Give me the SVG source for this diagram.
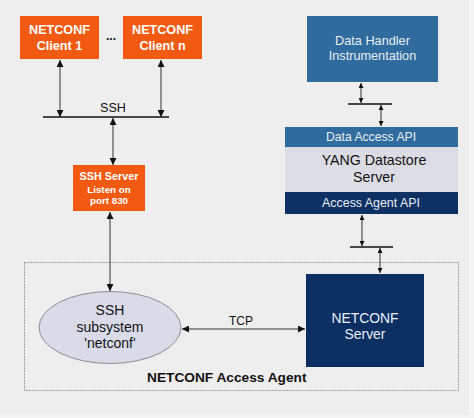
<svg xmlns="http://www.w3.org/2000/svg" width="474" height="418" viewBox="0 0 474 418">
<defs>
<style>
.t{font-family:"Liberation Sans",Arial,sans-serif;}
.b{font-weight:bold;}
.w{fill:#ffffff;}
.lt{fill:#e8eef6;}
.k{fill:#111111;}
.shaft{stroke:#333333;stroke-width:1;fill:none;}
.bus{stroke:#111111;stroke-width:1.6;fill:none;}
.orange{fill:#f25a12;}
</style>
<marker id="ah" viewBox="0 0 10 10" refX="10" refY="5" markerUnits="userSpaceOnUse" markerWidth="9" markerHeight="7" orient="auto-start-reverse">
<path d="M0,0 L10,5 L0,10 z" fill="#111"/>
</marker>
<marker id="as" viewBox="0 0 10 10" refX="10" refY="5" markerUnits="userSpaceOnUse" markerWidth="6" markerHeight="5" orient="auto-start-reverse">
<path d="M0,0 L10,5 L0,10 z" fill="#111"/>
</marker>
</defs>
<rect x="0" y="0" width="474" height="418" fill="#f4f4f4"/>
<rect x="0" y="0" width="469" height="415" fill="#eeeeee"/>

<g id="agent-boundary">
<rect x="24.5" y="262.5" width="434" height="128" fill="none" stroke="#9a9a9a" stroke-width="1" stroke-dasharray="2 1"/>
<text class="t b k" x="147" y="382" font-size="13.7">NETCONF Access Agent</text>
</g>

<g id="connectors">
<line class="shaft" x1="60" y1="60" x2="60" y2="117" marker-start="url(#ah)" marker-end="url(#ah)"/>
<line class="shaft" x1="161" y1="60" x2="161" y2="117" marker-start="url(#ah)" marker-end="url(#ah)"/>
<line class="bus" x1="43" y1="117" x2="169" y2="117"/>
<text class="t k" x="113" y="112" font-size="12.6" text-anchor="middle">SSH</text>
<line class="shaft" x1="113" y1="118" x2="113" y2="165" marker-start="url(#ah)" marker-end="url(#ah)"/>
<line class="shaft" x1="110" y1="212" x2="110" y2="291" marker-start="url(#ah)" marker-end="url(#ah)"/>
<line class="shaft" x1="182" y1="329" x2="305" y2="329" marker-start="url(#ah)" marker-end="url(#ah)"/>
<text class="t k" x="241" y="325" font-size="12" text-anchor="middle">TCP</text>
<line class="shaft" x1="361" y1="83" x2="361" y2="103" marker-start="url(#as)" marker-end="url(#as)"/>
<line class="bus" x1="348" y1="104" x2="392" y2="104"/>
<line class="shaft" x1="381" y1="105" x2="381" y2="126" marker-start="url(#as)" marker-end="url(#as)"/>
<line class="shaft" x1="362" y1="215" x2="362" y2="246" marker-start="url(#as)" marker-end="url(#as)"/>
<line class="bus" x1="350" y1="247" x2="393" y2="247"/>
<line class="shaft" x1="380" y1="248" x2="380" y2="273" marker-start="url(#as)" marker-end="url(#as)"/>
</g>

<g id="client1">
<rect class="orange" x="20" y="16" width="79" height="43"/>
<text class="t b w" x="59.5" y="34" font-size="12.6" text-anchor="middle">NETCONF</text>
<text class="t b w" x="59.5" y="50" font-size="12.6" text-anchor="middle">Client 1</text>
</g>
<g id="ellipsis">
<text class="t b k" x="111" y="40" font-size="12" text-anchor="middle">...</text>
</g>
<g id="clientn">
<rect class="orange" x="123" y="16" width="79" height="43"/>
<text class="t b w" x="162.5" y="34" font-size="12.6" text-anchor="middle">NETCONF</text>
<text class="t b w" x="162.5" y="50" font-size="12.6" text-anchor="middle">Client n</text>
</g>

<g id="ssh-server">
<rect class="orange" x="73" y="165" width="72" height="46"/>
<text class="t b w" x="109" y="180" font-size="10.8" text-anchor="middle">SSH Server</text>
<text class="t b w" x="109" y="193" font-size="9.8" text-anchor="middle">Listen on</text>
<text class="t b w" x="109" y="204" font-size="9.8" text-anchor="middle">port 830</text>
</g>

<g id="ssh-subsystem">
<ellipse cx="110" cy="327.5" rx="71" ry="36" fill="#d9dce8" stroke="#8a8d96" stroke-width="1"/>
<text class="t k" x="110" y="315" font-size="14" text-anchor="middle">SSH</text>
<text class="t k" x="110" y="332" font-size="14" text-anchor="middle">subsystem</text>
<text class="t k" x="110" y="348" font-size="14" text-anchor="middle">'netconf'</text>
</g>

<g id="netconf-server">
<rect x="306" y="274" width="118" height="93" fill="#0b2f62"/>
<text class="t lt" x="365" y="323" font-size="13.9" text-anchor="middle">NETCONF</text>
<text class="t lt" x="365" y="339" font-size="13.9" text-anchor="middle">Server</text>
</g>

<g id="data-handler">
<rect x="307" y="16" width="131" height="66" fill="#2f6b9d"/>
<text class="t lt" x="372.5" y="45" font-size="12.7" text-anchor="middle">Data Handler</text>
<text class="t lt" x="372.5" y="60" font-size="12.7" text-anchor="middle">Instrumentation</text>
</g>

<g id="yang-datastore">
<rect x="285" y="127" width="173" height="20" fill="#2f6b9d"/>
<rect x="285" y="147" width="173" height="45" fill="#dcdde4"/>
<rect x="285" y="192" width="173" height="22" fill="#0d3163"/>
<text class="t lt" x="371" y="141" font-size="12.2" text-anchor="middle">Data Access API</text>
<text class="t k" x="374" y="165" font-size="14.2" text-anchor="middle">YANG Datastore</text>
<text class="t k" x="374" y="182" font-size="14.2" text-anchor="middle">Server</text>
<text class="t lt" x="371" y="207" font-size="12.4" text-anchor="middle">Access Agent API</text>
</g>
</svg>
